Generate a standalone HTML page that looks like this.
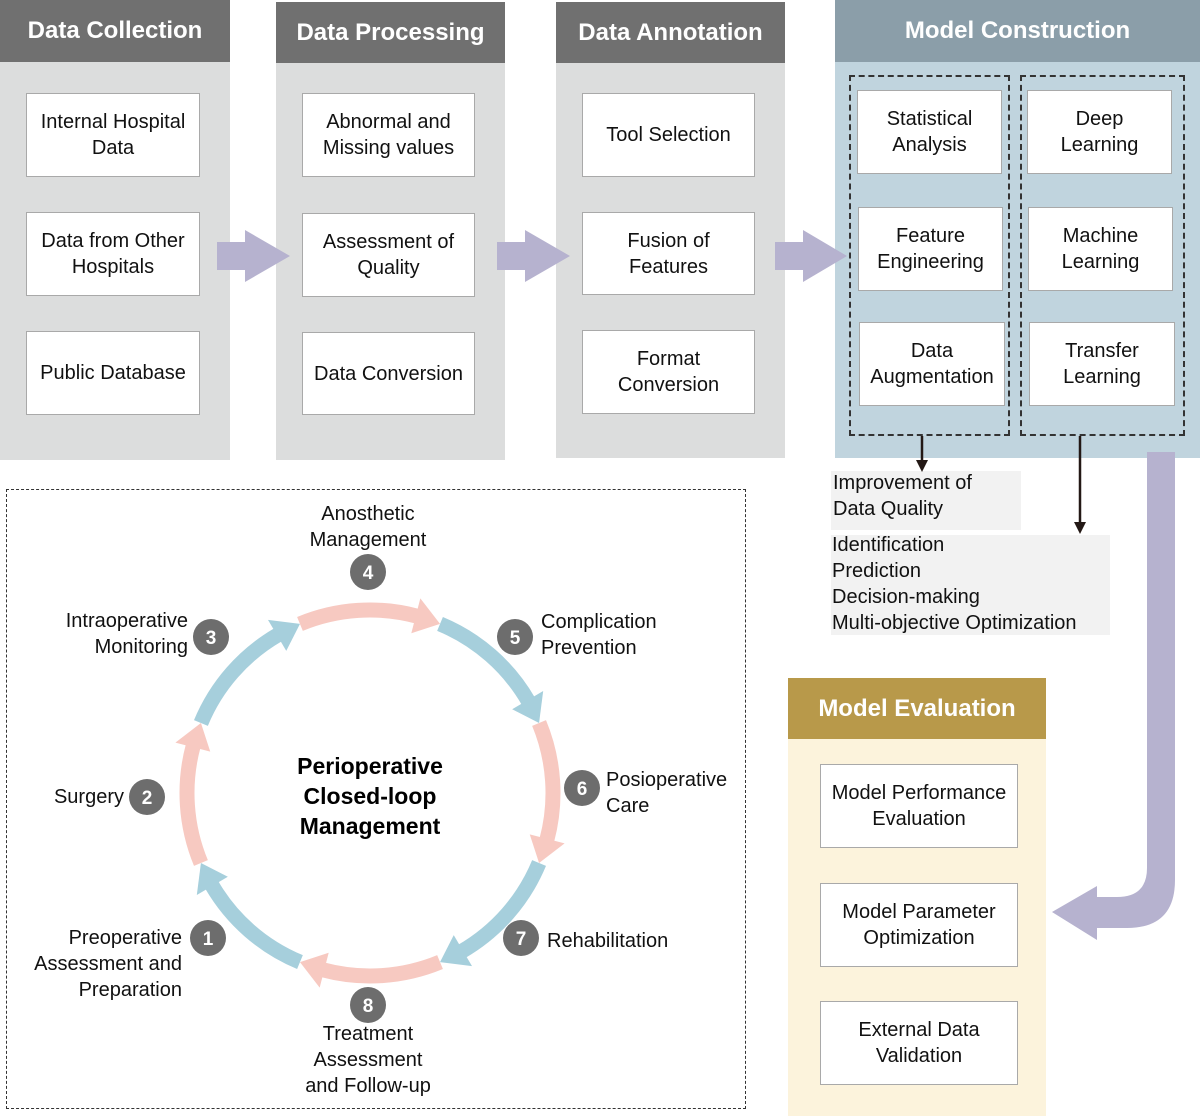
<!DOCTYPE html>
<html><head><meta charset="utf-8"><style>
body{margin:0;width:1200px;height:1116px;background:#fff;position:relative;overflow:hidden;font-family:"Liberation Sans",sans-serif;}
.a{position:absolute;box-sizing:border-box;}
.hd{color:#fff;font-weight:bold;font-size:24px;display:flex;align-items:center;justify-content:center;}
.bx{background:#fff;border:1px solid #a9a9a9;display:flex;align-items:center;justify-content:center;text-align:center;font-size:20px;line-height:26px;color:#111;}
.t{position:absolute;font-size:20px;line-height:26px;color:#111;}
</style></head><body>
<div class="a" style="left:0;top:0;width:230px;height:460px;background:#dcdddd"></div>
<div class="a hd" style="left:0;top:0;width:230px;height:62px;background:#707070">Data Collection</div>
<div class="a" style="left:276px;top:2px;width:229px;height:458px;background:#dcdddd"></div>
<div class="a hd" style="left:276px;top:2px;width:229px;height:61px;background:#707070">Data Processing</div>
<div class="a" style="left:556px;top:2px;width:229px;height:456px;background:#dcdddd"></div>
<div class="a hd" style="left:556px;top:2px;width:229px;height:61px;background:#707070">Data Annotation</div>
<div class="a" style="left:835px;top:0;width:365px;height:458px;background:#c0d4de"></div>
<div class="a hd" style="left:835px;top:0;width:365px;height:62px;background:#8b9ea9">Model Construction</div>

<div class="a bx" style="left:26px;top:93px;width:174px;height:84px">Internal Hospital<br>Data</div>
<div class="a bx" style="left:26px;top:212px;width:174px;height:84px">Data from Other<br>Hospitals</div>
<div class="a bx" style="left:26px;top:331px;width:174px;height:84px">Public Database</div>
<div class="a bx" style="left:302px;top:93px;width:173px;height:84px">Abnormal and<br>Missing values</div>
<div class="a bx" style="left:302px;top:213px;width:173px;height:84px">Assessment of<br>Quality</div>
<div class="a bx" style="left:302px;top:332px;width:173px;height:83px">Data Conversion</div>
<div class="a bx" style="left:582px;top:93px;width:173px;height:84px">Tool Selection</div>
<div class="a bx" style="left:582px;top:212px;width:173px;height:83px">Fusion of<br>Features</div>
<div class="a bx" style="left:582px;top:330px;width:173px;height:84px">Format<br>Conversion</div>

<div class="a" style="left:849px;top:75px;width:161px;height:361px;border:2px dashed #333"></div>
<div class="a" style="left:1020px;top:75px;width:165px;height:361px;border:2px dashed #333"></div>
<div class="a bx" style="left:857px;top:90px;width:145px;height:84px">Statistical<br>Analysis</div>
<div class="a bx" style="left:1027px;top:90px;width:145px;height:84px">Deep<br>Learning</div>
<div class="a bx" style="left:858px;top:207px;width:145px;height:84px">Feature<br>Engineering</div>
<div class="a bx" style="left:1028px;top:207px;width:145px;height:84px">Machine<br>Learning</div>
<div class="a bx" style="left:859px;top:322px;width:146px;height:84px">Data<br>Augmentation</div>
<div class="a bx" style="left:1029px;top:322px;width:146px;height:84px">Transfer<br>Learning</div>

<div class="a" style="left:831px;top:471px;width:190px;height:59px;background:#f2f2f2"></div>
<div class="t" style="left:833px;top:470px">Improvement of<br>Data Quality</div>
<div class="a" style="left:831px;top:535px;width:279px;height:100px;background:#f2f2f2"></div>
<div class="t" style="left:832px;top:532px">Identification<br>Prediction<br>Decision-making<br>Multi-objective Optimization</div>

<div class="a" style="left:788px;top:678px;width:258px;height:438px;background:#fcf3dc"></div>
<div class="a hd" style="left:788px;top:678px;width:258px;height:61px;background:#b8994a">Model Evaluation</div>
<div class="a bx" style="left:820px;top:764px;width:198px;height:84px">Model Performance<br>Evaluation</div>
<div class="a bx" style="left:820px;top:883px;width:198px;height:84px">Model Parameter<br>Optimization</div>
<div class="a bx" style="left:820px;top:1001px;width:198px;height:84px">External Data<br>Validation</div>

<div class="a" style="left:6px;top:489px;width:740px;height:620px;border:1.5px dashed #333"></div>

<svg class="a" style="left:0;top:0" width="1200" height="1116">
<g fill="#b6b2cf">
<polygon points="217,242 245,242 245,230 290,256 245,282 245,270 217,270"/>
<polygon points="497,242 525,242 525,230 570,256 525,282 525,270 497,270"/>
<polygon points="775,242 803,242 803,230 847,256 803,282 803,270 775,270"/>
<path d="M1147,452 H1175 V880 Q1175,928 1127,928 H1097 V940 L1052,912 L1097,886 V897 H1117 Q1147,897 1147,868 Z"/>
</g>
<g stroke="#231815" stroke-width="2.5" fill="#231815">
<line x1="922" y1="436" x2="922" y2="462"/><polygon points="916,460 928,460 922,472" stroke="none"/>
<line x1="1080" y1="436" x2="1080" y2="524"/><polygon points="1074,522 1086,522 1080,534" stroke="none"/>
</g>
<g id="ring"></g>
<g fill="#6d6d6d">
<circle cx="368" cy="572" r="18"/><circle cx="211" cy="637" r="18"/><circle cx="515" cy="637" r="18"/>
<circle cx="147" cy="797" r="18"/><circle cx="582" cy="788" r="18"/><circle cx="208" cy="938" r="18"/>
<circle cx="521" cy="938" r="18"/><circle cx="368" cy="1005" r="18"/>
</g>
<g fill="#fff" font-family="Liberation Sans" font-weight="bold" font-size="19" text-anchor="middle">
<text x="368" y="579">4</text><text x="211" y="644">3</text><text x="515" y="644">5</text>
<text x="147" y="804">2</text><text x="582" y="795">6</text><text x="208" y="945">1</text>
<text x="521" y="945">7</text><text x="368" y="1012">8</text>
</g>
<g font-family="Liberation Sans" font-weight="bold" font-size="23" text-anchor="middle" fill="#000">
<text x="370" y="774">Perioperative</text><text x="370" y="804">Closed-loop</text><text x="370" y="834">Management</text>
</g>
</svg>
<div class="t" style="left:268px;top:501px;width:200px;text-align:center">Anosthetic<br>Management</div>
<div class="t" style="left:30px;top:608px;width:158px;text-align:right">Intraoperative<br>Monitoring</div>
<div class="t" style="left:541px;top:609px">Complication<br>Prevention</div>
<div class="t" style="left:20px;top:784px;width:104px;text-align:right">Surgery</div>
<div class="t" style="left:606px;top:767px">Posioperative<br>Care</div>
<div class="t" style="left:10px;top:925px;width:172px;text-align:right">Preoperative<br>Assessment and<br>Preparation</div>
<div class="t" style="left:547px;top:928px">Rehabilitation</div>
<div class="t" style="left:268px;top:1021px;width:200px;text-align:center">Treatment<br>Assessment<br>and Follow-up</div>
<script>
(function(){
var cx=370,cy=793,r=183,g=document.getElementById('ring'),ns='http://www.w3.org/2000/svg';
function P(a,rr){var t=a*Math.PI/180;return [cx+rr*Math.sin(t),cy-rr*Math.cos(t)];}
for(var i=0;i<8;i++){
 var c=i%2?'#a6cfdc':'#f7c9c1',s=i*45-22.5,e=i*45+22.5,h=e-8;
 var p1=P(s,r),p2=P(h+0.5,r);
 var pa=document.createElementNS(ns,'path');
 pa.setAttribute('d','M'+p1[0]+','+p1[1]+' A'+r+','+r+' 0 0 1 '+p2[0]+','+p2[1]);
 pa.setAttribute('stroke',c);pa.setAttribute('stroke-width','15');pa.setAttribute('fill','none');
 g.appendChild(pa);
 var a=P(h,r-18),b=P(h,r+18),t=P(e,r);
 var pg=document.createElementNS(ns,'polygon');
 pg.setAttribute('points',a.join(',')+' '+b.join(',')+' '+t.join(','));pg.setAttribute('fill',c);
 g.appendChild(pg);
}})();
</script>
</body></html>
